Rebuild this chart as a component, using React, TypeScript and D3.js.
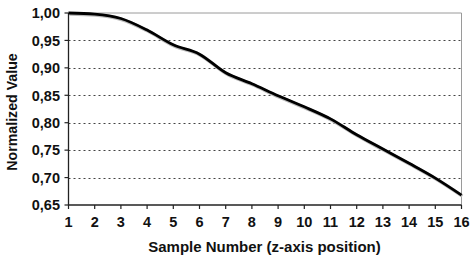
import React from "react";
import * as d3 from "d3";

const samples = [1, 2, 3, 4, 5, 6, 7, 8, 9, 10, 11, 12, 13, 14, 15, 16];
const values = [1.0, 0.998, 0.99, 0.969, 0.942, 0.925, 0.891, 0.871, 0.849, 0.829, 0.807, 0.778, 0.752, 0.726, 0.699, 0.668];
const yTicks = [0.65, 0.7, 0.75, 0.8, 0.85, 0.9, 0.95, 1.0];
const xTitle = "Sample Number (z-axis position)";
const yTitle = "Normalized Value";

const W = 474, H = 261;
const left = 68.5, right = 461.5, top = 13, bottom = 205;
const font = "'Liberation Sans', Arial, sans-serif";

export default function App() {
  const x = d3.scaleLinear().domain([1, 16]).range([left, right]);
  const y = d3.scaleLinear().domain([0.65, 1.0]).range([bottom, top]);
  const line = d3.line<number>().x((_, i) => x(samples[i])).y(d => y(d)).curve(d3.curveMonotoneX);
  const path = line(values) || "";
  const fmt = (v: number) => v.toFixed(2).replace(".", ",");
  return (
    <svg width={W} height={H} style={{ position: "absolute", left: 0, top: 0, background: "#fff" }}>
      <rect x={0} y={0} width={W} height={H} fill="#fff" />
      <line x1={left} x2={right} y1={top} y2={top} stroke="#9a9a9a" strokeWidth={1} />
      <line x1={right} x2={right} y1={top} y2={bottom} stroke="#9a9a9a" strokeWidth={1} />
      {yTicks.filter(t => t > 0.65 && t < 1.0).map(t => (
        <line key={t} x1={left} x2={right} y1={Math.round(y(t)) + 0.5} y2={Math.round(y(t)) + 0.5}
          stroke="#444" strokeWidth={1} strokeDasharray="2,3" />
      ))}
      <line x1={left} x2={left} y1={top} y2={bottom} stroke="#222" strokeWidth={1.3} />
      <line x1={left} x2={right} y1={bottom} y2={bottom} stroke="#222" strokeWidth={1.3} />
      {yTicks.map(t => (
        <g key={"y" + t}>
          <line x1={left - 4} x2={left} y1={y(t)} y2={y(t)} stroke="#222" strokeWidth={1.2} />
          <text x={60} y={y(t)} dy="0.36em" textAnchor="end" fontFamily={font} fontWeight="bold" fontSize={14.5} fill="#111">{fmt(t)}</text>
        </g>
      ))}
      {samples.map(s => (
        <g key={"x" + s}>
          <line x1={x(s)} x2={x(s)} y1={bottom} y2={bottom + 4} stroke="#222" strokeWidth={1.2} />
          <text x={x(s)} y={227} textAnchor="middle" fontFamily={font} fontWeight="bold" fontSize={14.5} fill="#111">{s}</text>
        </g>
      ))}
      <path d={path} fill="none" stroke="#bbb" strokeWidth={3.5} transform="translate(0.8,1)" />
      <path d={path} fill="none" stroke="#000" strokeWidth={2.8} />
      <text x={(left + right) / 2 - 0.5} y={252} textAnchor="middle" fontFamily={font} fontWeight="bold" fontSize={15} fill="#111">{xTitle}</text>
      <text transform={`translate(17,${112}) rotate(-90)`} textAnchor="middle" fontFamily={font} fontWeight="bold" fontSize={14.2} fill="#111">{yTitle}</text>
    </svg>
  );
}
